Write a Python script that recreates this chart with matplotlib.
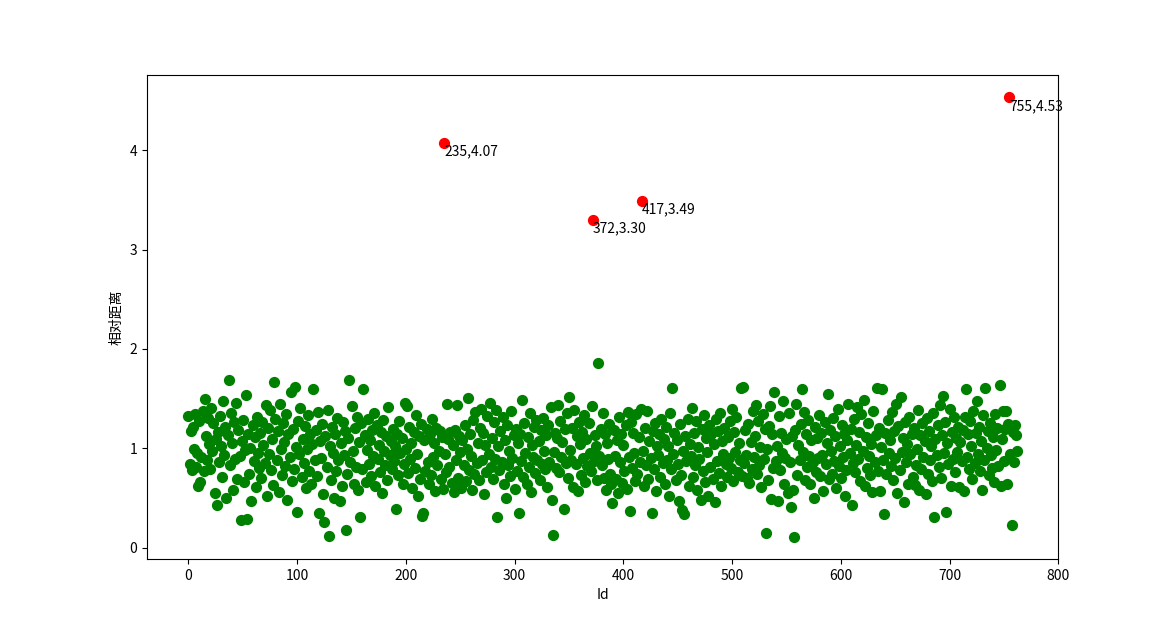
import numpy as np
import matplotlib.pyplot as plt

plt.rcParams['font.family'] = ['Noto Sans CJK SC', 'DejaVu Sans']
plt.rcParams['axes.unicode_minus'] = False

# relative distance per sample id (approximate)
rows = [
    "1.33 0.84 1.18 0.78 1.22 0.99 1.35 0.81 0.95 0.62 1.28 0.66 0.91 1.38 0.77 1.50 1.12 0.88 1.31 1.04",
    "0.79 1.41 0.97 1.26 0.55 1.09 0.43 1.17 0.86 1.33 1.02 0.71 1.48 0.93 1.22 0.50 1.13 1.69 0.83 1.36",
    "1.05 0.58 1.27 0.89 1.46 0.69 1.19 0.92 0.28 1.07 1.29 0.66 0.98 1.54 0.29 1.14 0.74 1.00 0.47 1.24",
    "0.87 1.11 0.61 1.32 0.95 0.80 1.16 0.70 1.27 1.03 0.85 1.44 0.52 1.21 0.94 1.39 0.78 1.09 0.63 1.67",
    "1.30 0.88 1.18 0.56 1.45 0.99 0.73 1.26 1.06 0.82 1.35 0.48 1.14 0.91 1.57 0.67 1.20 0.79 1.62 1.01",
    "0.36 1.28 0.94 1.41 0.71 1.09 0.85 1.23 0.60 0.99 1.34 0.77 1.15 0.64 1.04 1.60 0.88 1.19 0.72 1.37",
    "0.35 1.07 0.90 1.25 0.54 0.26 1.12 0.81 1.39 0.12 1.02 0.68 1.22 0.95 0.50 1.15 0.77 1.31 0.88 0.47",
    "1.05 0.62 1.27 0.93 1.18 0.18 0.74 1.10 1.69 0.86 1.43 0.97 0.64 1.21 0.81 1.32 0.58 1.06 0.31 1.26",
    "0.79 1.60 1.13 0.66 0.98 1.30 0.84 1.08 0.72 1.19 0.92 1.36 0.62 1.24 0.89 1.03 0.76 1.17 0.55 1.29",
    "0.97 0.83 1.12 0.68 1.42 0.93 1.07 0.79 1.20 0.87 1.02 0.39 1.15 0.73 1.28 0.95 1.10 0.64 0.84 1.46",
    "0.99 1.43 0.75 1.22 0.89 1.05 0.60 1.17 0.80 1.34 0.94 0.52 1.12 0.69 1.25 0.32 0.35 1.08 0.77 1.20",
    "0.86 0.64 1.15 0.73 1.30 0.91 1.05 0.57 1.21 0.83 0.97 1.18 0.69 1.11 0.59 4.07 0.94 0.76 1.45 1.09",
    "0.81 1.17 0.65 1.03 0.56 1.19 0.88 1.44 0.70 1.12 0.96 0.60 1.08 0.83 1.24 0.67 0.99 1.51 0.78 1.14",
    "0.92 0.58 1.29 0.74 1.37 0.85 1.05 0.68 1.21 1.40 0.88 1.16 0.54 1.03 0.76 1.33 0.94 1.46 0.81 1.10",
    "0.69 1.27 0.89 1.39 0.31 1.02 0.78 1.18 0.86 1.32 0.64 1.08 0.50 1.24 0.83 0.97 0.72 1.38 0.90 1.13",
    "0.59 1.20 0.77 1.05 0.35 1.15 0.87 1.49 0.71 1.26 0.95 0.64 1.11 0.81 1.36 0.56 1.03 0.91 1.22 0.75",
    "1.29 0.88 1.07 0.68 1.19 0.84 1.31 0.97 0.79 1.13 0.61 1.24 0.86 1.42 0.48 0.13 0.96 1.16 0.80 1.10",
    "1.44 0.76 1.28 0.91 1.06 0.39 1.20 0.85 1.36 0.70 1.52 0.98 0.88 1.21 0.61 1.39 0.84 1.12 0.57 1.27",
    "1.04 0.73 1.17 0.90 1.34 0.66 1.09 0.82 1.26 0.95 0.77 1.43 3.30 0.87 1.13 1.02 0.68 1.86 0.92 1.20",
    "0.83 1.36 0.70 1.15 0.58 1.05 0.89 1.25 0.74 0.64 0.45 1.19 0.92 0.69 1.08 0.55 1.32 0.86 1.14 0.65",
    "1.03 0.77 1.24 0.59 1.37 0.91 0.37 1.27 0.80 1.16 0.95 0.67 1.35 0.74 1.11 0.86 1.40 3.49 0.97 0.62",
    "1.21 0.83 1.38 0.69 1.07 0.90 0.35 1.18 0.79 1.26 0.57 1.02 0.93 1.14 0.71 1.30 0.85 1.09 0.64 1.22",
    "0.88 1.02 0.52 1.36 0.79 1.61 0.94 1.16 0.68 1.08 0.84 0.47 1.25 0.73 0.38 0.97 0.34 1.12 0.87 1.30",
    "0.62 1.04 0.92 1.41 0.71 1.16 0.83 1.28 0.58 1.01 0.89 0.48 1.20 0.77 1.34 0.66 1.10 0.96 0.52 1.24",
    "0.81 1.15 0.69 1.04 0.46 1.30 0.87 1.18 0.75 1.36 0.62 1.07 0.94 1.21 0.84 0.71 1.11 0.90 1.28 0.80",
    "1.40 0.67 1.17 0.96 1.32 0.76 1.05 0.88 1.61 0.72 1.62 0.85 1.19 0.93 0.70 1.25 0.65 1.06 0.79 1.38",
    "0.91 1.12 1.44 0.74 1.28 0.83 1.01 0.61 1.35 0.89 1.20 0.15 0.99 0.68 1.23 1.43 0.49 1.14 0.80 1.57",
    "0.87 1.02 0.47 1.33 0.78 1.16 0.95 1.48 0.64 0.90 1.09 0.55 1.36 0.86 0.41 1.12 0.58 0.11 1.19 1.45",
    "0.73 1.03 0.88 1.25 1.60 0.96 1.37 0.68 1.14 0.81 1.29 0.92 0.64 1.08 0.86 0.50 1.22 0.76 1.10 0.90",
    "1.34 0.72 1.16 0.93 0.57 1.27 0.84 1.05 1.55 0.69 1.19 0.97 0.74 1.31 0.87 1.12 0.60 1.40 0.82 1.02",
    "0.70 1.24 0.91 1.15 0.52 0.78 1.08 1.45 0.95 1.20 0.43 0.85 1.30 0.76 1.03 1.42 0.89 1.17 0.67 1.35",
    "0.97 1.49 0.62 1.11 0.80 1.26 0.92 0.73 1.04 0.56 1.38 0.86 1.13 1.61 0.77 1.21 0.57 1.01 1.60 0.88",
    "0.34 1.16 0.74 1.29 0.95 1.08 0.82 1.37 0.68 1.18 0.90 1.45 0.55 1.23 0.78 1.52 0.96 1.10 0.46 1.27",
    "0.86 1.04 0.64 1.32 0.94 1.15 0.71 1.21 0.63 0.83 0.99 1.39 0.58 1.13 0.79 1.26 0.91 1.07 0.54 1.31",
    "0.74 1.18 0.88 1.02 0.67 1.36 0.31 1.09 0.93 1.24 0.81 1.44 0.70 1.13 1.53 0.95 1.27 0.36 1.05 0.84",
    "1.40 0.62 1.17 0.89 1.32 0.76 1.10 0.96 1.22 0.61 1.06 0.87 1.19 0.57 1.32 1.60 0.91 1.14 0.79 1.28",
    "1.02 0.69 1.38 0.85 1.16 1.48 0.94 1.22 0.77 1.07 0.58 1.34 0.88 1.61 1.00 1.18 0.73 1.26 0.93 0.80",
    "1.11 0.66 1.35 0.98 1.21 0.82 1.64 0.62 1.09 1.38 0.87 1.20 1.38 0.64 1.25 4.53 0.94 0.23 1.17 0.86",
    "1.24 1.13 0.97",
]
dist = np.array(" ".join(rows).split(), dtype=float)
ids = np.arange(len(dist))
threshold = 3.0

outlier = dist > threshold

fig, ax = plt.subplots(figsize=(11.76, 6.28), dpi=100)
ax.scatter(ids[~outlier], dist[~outlier], c='green', s=50)
ax.scatter(ids[outlier], dist[outlier], c='red', s=50)
for i, d in zip(ids[outlier], dist[outlier]):
    ax.annotate('%d,%.2f' % (i, d), (i, d), xytext=(0, -9), textcoords='offset points', fontsize=10)
ax.set_xlabel('Id')
ax.set_ylabel('相对距离')
fig.savefig('out.png')
